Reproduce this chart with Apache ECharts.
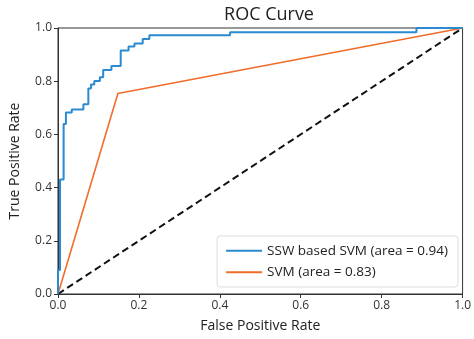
<!DOCTYPE html>
<html>
<head>
<meta charset="utf-8">
<script src="https://cdn.jsdelivr.net/npm/echarts@6/dist/echarts.min.js"></script>
<style>
  html, body { margin: 0; padding: 0; background: #fff; }
  #chart { width: 474px; height: 339px; }
</style>
</head>
<body>
<div id="chart"></div>
<script>
// ROC curve points (false positive rate, true positive rate)
const sswFpr = [0, 0, 0.005, 0.005, 0.0139, 0.0139, 0.0196, 0.0196, 0.034, 0.034, 0.0628, 0.0628, 0.075, 0.075, 0.0815, 0.0815, 0.0897, 0.0897, 0.1035, 0.1035, 0.1117, 0.1117, 0.132, 0.132, 0.155, 0.155, 0.1744, 0.1744, 0.189, 0.189, 0.2094, 0.2094, 0.2258, 0.2258, 0.4254, 0.4254, 0.886, 0.886, 1];
const sswTpr = [0, 0.09, 0.09, 0.43, 0.43, 0.639, 0.639, 0.682, 0.682, 0.694, 0.694, 0.713, 0.713, 0.773, 0.773, 0.788, 0.788, 0.801, 0.801, 0.815, 0.815, 0.842, 0.842, 0.857, 0.857, 0.915, 0.915, 0.930, 0.930, 0.942, 0.942, 0.959, 0.959, 0.973, 0.973, 0.984, 0.984, 1, 1];
const svmFpr = [0, 0.148, 1];
const svmTpr = [0, 0.754, 1];
const chanceFpr = [0, 1];
const chanceTpr = [0, 1];
const tickValues = [0, 0.2, 0.4, 0.6, 0.8, 1.0];
const seriesNames = ['SSW based SVM (area = 0.94)', 'SVM (area = 0.83)'];

const pairs = (xs, ys) => xs.map((x, i) => [x, ys[i]]);
const FONT = "'Open Sans', 'Noto Sans CJK KR', sans-serif";
const BLUE = '#2b8ad0';
const ORANGE = '#f06d2c';

const axisCommon = {
  type: 'value',
  min: tickValues[0],
  max: tickValues[tickValues.length - 1],
  interval: 0.2,
  nameLocation: 'middle',
  nameTextStyle: { fontFamily: FONT, fontSize: 14, color: '#222' },
  axisLine: { show: true, lineStyle: { color: '#333', width: 1 } },
  axisTick: { show: true, length: 4, lineStyle: { color: '#333' } },
  axisLabel: {
    fontFamily: FONT, fontSize: 12, color: '#333',
    formatter: v => v.toFixed(1),
    showMinLabel: true, showMaxLabel: true
  },
  splitLine: { show: false }
};

const chart = echarts.init(document.getElementById('chart'), null, { renderer: 'canvas' });
chart.setOption({
  animation: false,
  backgroundColor: '#fff',
  title: {
    text: 'ROC Curve',
    left: 264, top: 1,
    textAlign: 'center',
    textStyle: { fontFamily: FONT, fontSize: 18, fontWeight: 'normal', color: '#222' }
  },
  grid: {
    left: 56, right: 9, top: 28, bottom: 45,
    show: true, borderColor: '#333', borderWidth: 1, backgroundColor: 'transparent'
  },
  xAxis: Object.assign({}, axisCommon, {
    name: 'False Positive Rate', nameGap: 25,
    axisLabel: Object.assign({}, axisCommon.axisLabel, { margin: 6 })
  }),
  yAxis: Object.assign({}, axisCommon, {
    name: 'True Positive Rate', nameGap: 36,
    axisLabel: Object.assign({}, axisCommon.axisLabel, { margin: 6 })
  }),
  legend: {
    data: seriesNames,
    orient: 'vertical',
    right: 16, bottom: 52,
    icon: 'rect',
    itemWidth: 36, itemHeight: 2,
    itemGap: 8,
    padding: [8, 10, 8, 9],
    backgroundColor: '#fff',
    borderColor: '#ddd', borderWidth: 1, borderRadius: 3,
    textStyle: { fontFamily: FONT, fontSize: 13.5, color: '#222' }
  },
  series: [
    {
      name: seriesNames[0], type: 'line', data: pairs(sswFpr, sswTpr),
      showSymbol: false, symbol: 'none', z: 4,
      lineStyle: { color: BLUE, width: 2 }, itemStyle: { color: BLUE }
    },
    {
      name: seriesNames[1], type: 'line', data: pairs(svmFpr, svmTpr),
      showSymbol: false, symbol: 'none', z: 3,
      lineStyle: { color: ORANGE, width: 1.6 }, itemStyle: { color: ORANGE }
    },
    {
      name: 'chance', type: 'line', data: pairs(chanceFpr, chanceTpr),
      showSymbol: false, symbol: 'none', z: 2,
      lineStyle: { color: '#111', width: 2, type: [7, 4] }
    }
  ]
});
</script>
</body>
</html>
